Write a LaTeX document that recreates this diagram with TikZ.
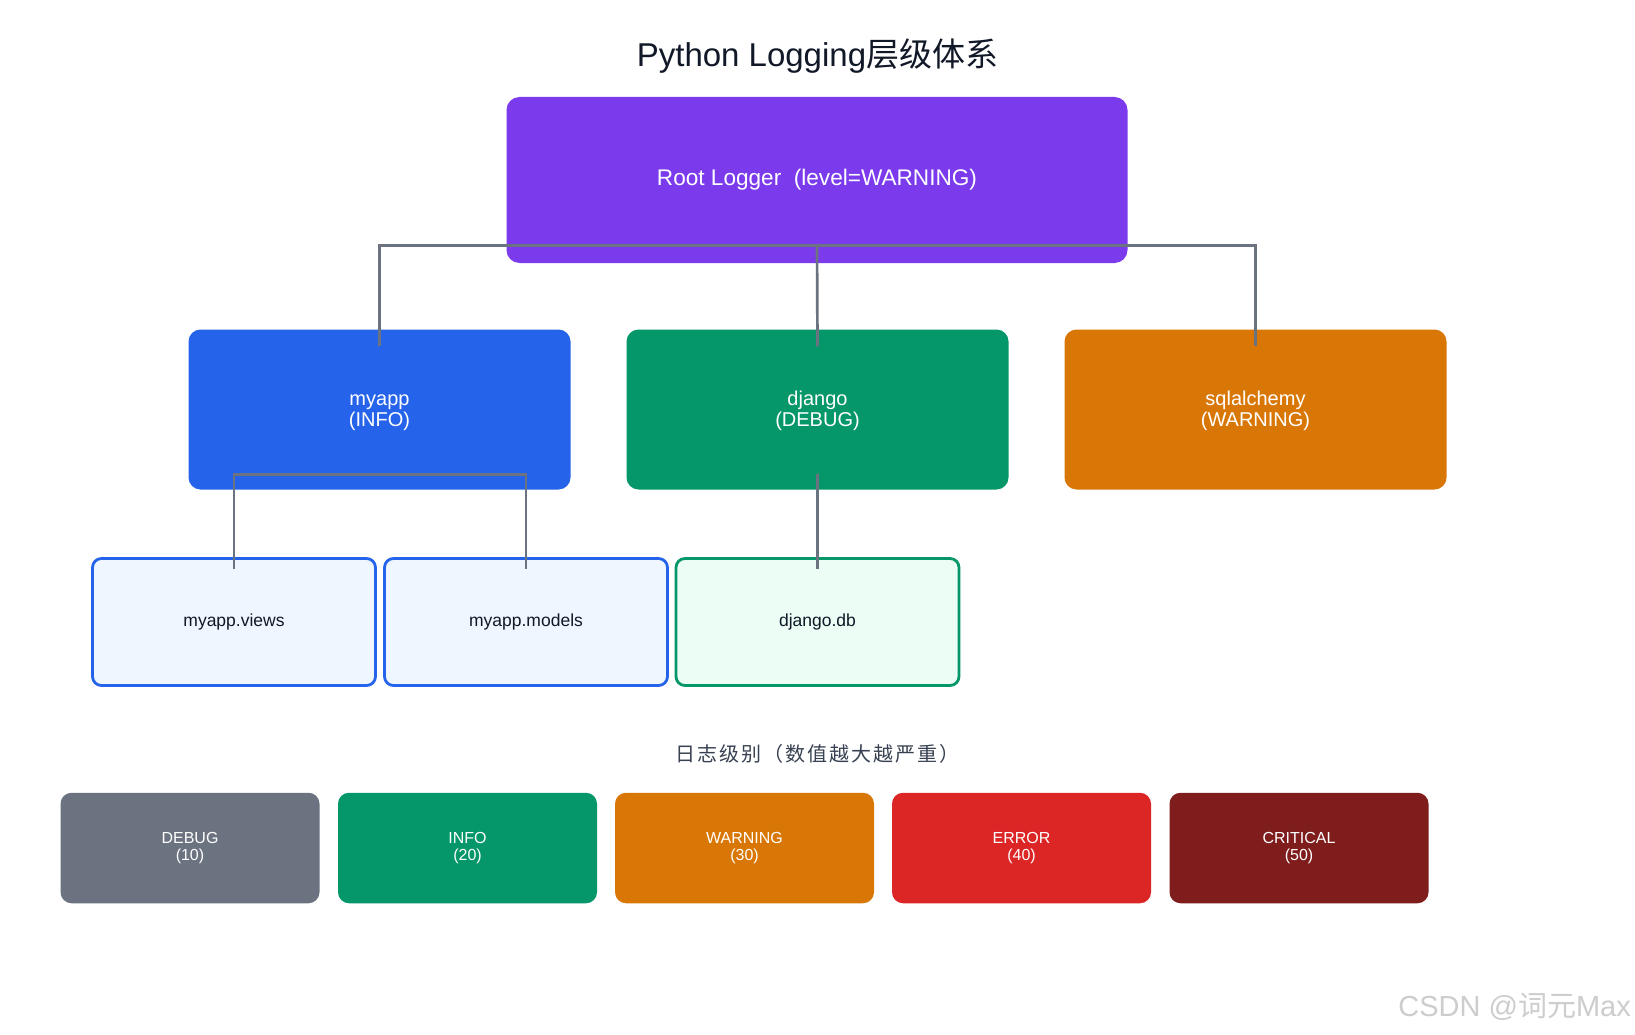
\documentclass[tikz,border=0pt]{standalone}
\usepackage{fontspec}
\setmainfont{Liberation Sans}
\newfontfamily\cjk{Noto Sans CJK SC}
\newfontfamily\cjkspaced[LetterSpace=10]{Noto Sans CJK SC}
\usetikzlibrary{calc}
\definecolor{cPurple}{HTML}{7C3AED}
\definecolor{cBlue}{HTML}{2563EB}
\definecolor{cGreen}{HTML}{059669}
\definecolor{cOrange}{HTML}{D97706}
\definecolor{cRed}{HTML}{DC2626}
\definecolor{cDark}{HTML}{7F1D1D}
\definecolor{cGray}{HTML}{6B7280}
\definecolor{cBlueL}{HTML}{EFF6FF}
\definecolor{cGreenL}{HTML}{ECFDF5}
\definecolor{cInk}{HTML}{111827}
\definecolor{cSub}{HTML}{374151}
\definecolor{cMark}{HTML}{CDCDCD}
\newcommand{\topstrut}{\rule{0pt}{17.5pt}}
\tikzset{
  rootbox/.style={fill=cPurple, rounded corners=13pt, minimum width=621pt, minimum height=166pt,
    inner sep=0pt, text=white, font=\fontsize{22.6}{26}\selectfont},
  midbox/.style={rounded corners=12pt, minimum width=382pt, minimum height=160pt,
    inner sep=0pt, text=white, align=center, font=\fontsize{20}{21.5}\selectfont},
  childbox/.style={rounded corners=9pt, line width=2.8pt, minimum width=283pt, minimum height=127pt,
    inner sep=0pt, text=cInk, font=\fontsize{17.5}{20}\selectfont},
  levelbox/.style={rounded corners=11pt, minimum width=259pt, minimum height=110.5pt,
    inner sep=0pt, text=white, align=center, font=\fontsize{16}{17}\selectfont},
  conn/.style={draw=cGray, line width=2.7pt}
}
\begin{document}
\begin{tikzpicture}[x=1pt, y=-1pt]
\useasboundingbox[fill=white] (0,0) rectangle (1635,1035);

\node[text=cInk, font=\fontsize{33}{38}\selectfont] (title) at (817.5,56) {Python Logging{\cjk 层级体系}};

\node[rootbox] (root) at (817,180) {Root Logger\ \ (level=WARNING)};

\node[midbox, fill=cBlue] (myapp) at (379.5,409.5) {\topstrut myapp\\(INFO)};
\node[midbox, fill=cGreen] (django) at (817.5,409.5) {\topstrut django\\(DEBUG)};
\node[midbox, fill=cOrange] (sqla) at (1255.5,409.5) {\topstrut sqlalchemy\\(WARNING)};

\node[childbox, draw=cBlue, fill=cBlueL] (views) at (234,622) {myapp.views};
\node[childbox, draw=cBlue, fill=cBlueL] (models) at (526,622) {myapp.models};
\node[childbox, draw=cGreen, fill=cGreenL] (djdb) at (817.5,622) {django.db};

% connectors
\coordinate (rj) at ($(root.south)+(0,-18)$);
\coordinate (mj) at ($(myapp.south)+(0,-15.5)$);
\coordinate (dj) at ($(django.south)+(0,-15.5)$);
\draw[conn] ($(myapp.north)+(0,17)$) |- (rj) -| ($(sqla.north)+(0,17)$);
\draw[conn] (rj) -- ($(django.north)+(0,17)$);
\draw[conn] ($(views.north)+(0,12)$) |- (mj) -| ($(models.north)+(0,12)$);
\draw[conn] (dj) -- ($(djdb.north)+(0,12)$);

\node[text=cSub, font=\fontsize{20}{24}\cjkspaced] (legend) at (817.5,754) {日志级别（数值越大越严重）};

\node[levelbox, fill=cGray] (ldebug) at (190,848) {DEBUG\\(10)};
\node[levelbox, fill=cGreen] (linfo) at (467.5,848) {INFO\\(20)};
\node[levelbox, fill=cOrange] (lwarn) at (744.5,848) {WARNING\\(30)};
\node[levelbox, fill=cRed] (lerror) at (1021.5,848) {ERROR\\(40)};
\node[levelbox, fill=cDark] (lcrit) at (1299,848) {CRITICAL\\(50)};

\node[anchor=east, text=cMark, font=\fontsize{29}{32}\selectfont, inner sep=0pt] (mark) at (1631,1007) {CSDN @{\cjk 词元}Max};
\end{tikzpicture}
\end{document}
